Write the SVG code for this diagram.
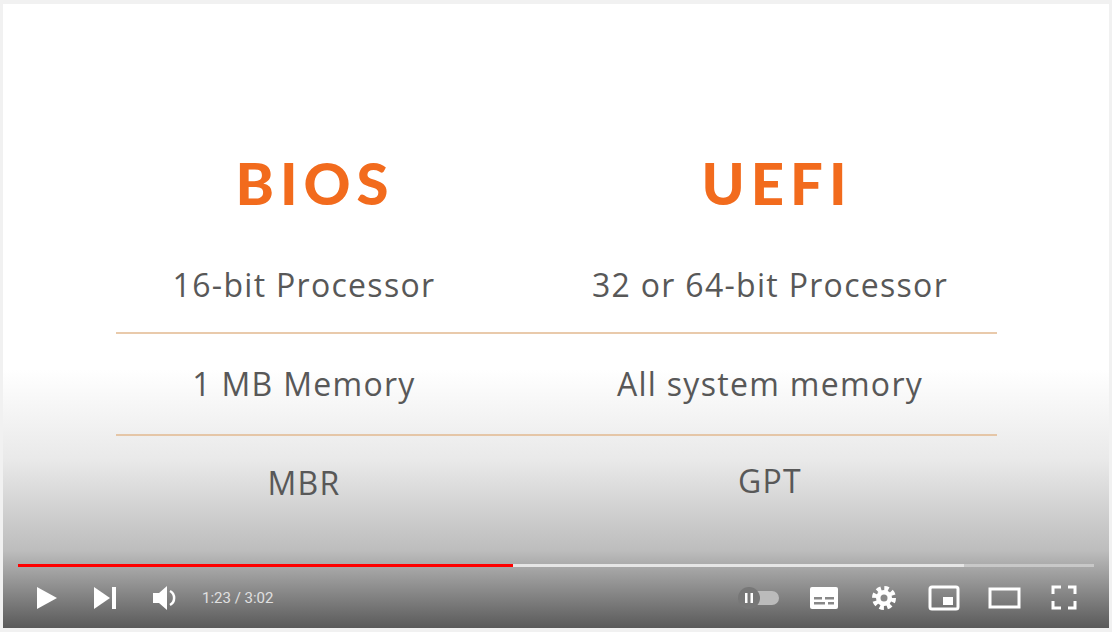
<svg xmlns="http://www.w3.org/2000/svg" width="1112" height="632" viewBox="0 0 1112 632">
<defs>
<linearGradient id="shade" x1="0" y1="0" x2="0" y2="1">
<stop offset="0" stop-color="#ffffff"/>
<stop offset="0.35" stop-color="#e9e9e9"/>
<stop offset="0.7" stop-color="#bdbdbd"/>
<stop offset="1" stop-color="#5a5a5a"/>
</linearGradient>
<style>
.title{font-family:Lato,"Open Sans",sans-serif;font-weight:900;font-size:58px;fill:#f26b1d;text-anchor:middle;letter-spacing:6px}
.row{font-family:"Open Sans","Noto Sans",sans-serif;font-size:32px;fill:#585858;text-anchor:middle;letter-spacing:1.3px}
.sep{stroke:#e2b98f;stroke-width:1.5}
.ic{fill:#fff}
.time{font-family:Roboto,"Liberation Sans",sans-serif;font-size:15px;fill:#e0e0e0}
</style>
</defs>
<rect width="1112" height="632" fill="#f1f1f1"/>
<rect x="3" y="4" width="1106" height="624" fill="#ffffff"/>
<rect x="3" y="370" width="1106" height="258" fill="url(#shade)"/>
<g id="bios"><text class="title" x="315" y="205">BIOS</text></g>
<g id="uefi"><text class="title" x="777" y="205">UEFI</text></g>
<g id="row1">
<text class="row" x="304" y="297">16-bit Processor</text>
<text class="row" x="770" y="297">32 or 64-bit Processor</text>
</g>
<g id="row2">
<text class="row" x="304" y="396">1 MB Memory</text>
<text class="row" x="770" y="396">All system memory</text>
</g>
<g id="row3">
<text class="row" x="304" y="495">MBR</text>
<text class="row" x="770" y="493">GPT</text>
</g>
<g id="connectors">
<line class="sep" x1="116" y1="333" x2="997" y2="333"/>
<line class="sep" x1="116" y1="435" x2="997" y2="435"/>
</g>
<g id="player">
<rect x="18" y="564" width="1076" height="3" fill="#c8c8c8"/>
<rect x="18" y="564" width="946" height="3" fill="#e6e6e6"/>
<rect x="18" y="564" width="495" height="3" fill="#ff0000"/>
<path class="ic" d="M37 587 L57 598 L37 609 Z"/>
<path class="ic" d="M94 587 L110 598 L94 609 Z"/>
<rect class="ic" x="112" y="587" width="4" height="22"/>
<path class="ic" d="M153 593 H159 L167 586 V610 L159 603 H153 Z"/>
<path d="M170 591 A8 8 0 0 1 170 605" fill="none" stroke="#fff" stroke-width="2.5"/>
<text class="time" x="202" y="603">1:23 / 3:02</text>
<rect x="740" y="591" width="39" height="14" rx="7" fill="#bbb"/>
<circle cx="749" cy="598" r="11" fill="#777"/>
<rect class="ic" x="745" y="593" width="2.5" height="10"/><rect class="ic" x="750.5" y="593" width="2.5" height="10"/>
<rect class="ic" x="810" y="587" width="28" height="22" rx="2"/>
<rect x="814" y="597" width="8" height="2.5" fill="#888"/><rect x="825" y="597" width="9" height="2.5" fill="#888"/>
<rect x="814" y="602" width="11" height="2.5" fill="#888"/><rect x="828" y="602" width="6" height="2.5" fill="#888"/>
<circle cx="884" cy="598" r="9" fill="none" stroke="#fff" stroke-width="6" stroke-dasharray="4 3.07"/>
<circle cx="884" cy="598" r="8" class="ic"/>
<circle cx="884" cy="598" r="3.5" fill="#888"/>
<rect x="930" y="587" width="28" height="22" rx="2" fill="none" stroke="#fff" stroke-width="3"/>
<rect class="ic" x="943" y="597" width="10" height="8"/>
<rect x="990" y="589" width="29" height="18" fill="none" stroke="#fff" stroke-width="3"/>
<path d="M1053 594 V587 H1061 M1068 587 H1075 V594 M1075 601 V608 H1068 M1061 608 H1053 V601" fill="none" stroke="#fff" stroke-width="3"/>
</g>
</svg>
